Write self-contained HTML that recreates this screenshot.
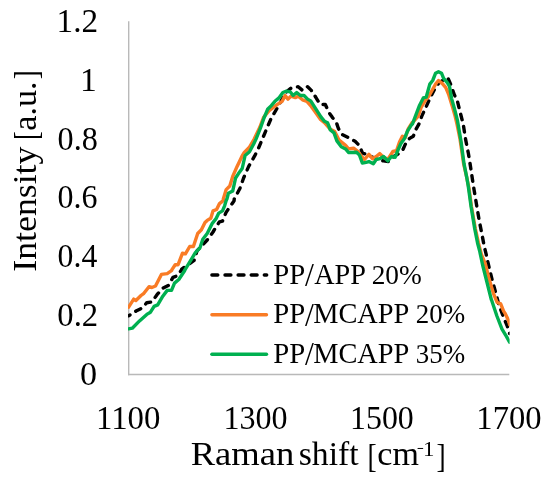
<!DOCTYPE html>
<html><head><meta charset="utf-8"><title>Raman spectra</title>
<style>
html,body{margin:0;padding:0;background:#fff;}
svg{display:block;}
text{font-family:"Liberation Serif","DejaVu Serif",serif;fill:#000;white-space:pre;}
</style></head><body>
<svg width="550" height="484" viewBox="0 0 550 484">
<rect width="550" height="484" fill="#fff"/>
<g stroke="#b9b9b9" stroke-width="1.4" fill="none">
<line x1="128.7" y1="21.3" x2="128.7" y2="375.2"/>
<line x1="128" y1="374.5" x2="509.3" y2="374.5"/>
</g>
<clipPath id="cp"><rect x="128" y="10" width="381.6" height="364"/></clipPath>
<g fill="none" stroke-width="3.4" stroke-linejoin="round" stroke-linecap="round" clip-path="url(#cp)">
<polyline stroke="#000" stroke-dasharray="5.6 6.9" stroke-dashoffset="4" points="128.6,315.8 132.3,313.6 136.6,310.7 142.5,307.8 146.8,302.7 151.9,302.0 157.0,294.7 162.8,288.2 168.6,285.3 173.0,277.3 177.4,275.8 181.0,270.7 181.7,269.1 194.1,260.4 197.0,250.9 207.2,240.0 213.0,232.0 215.2,228.4 219.5,221.8 222.5,221.1 226.1,212.4 229.0,208.0 232.6,202.9 234.1,200.7 234.2,199.1 240.0,188.2 243.6,178.0 248.7,166.4 254.5,156.2 258.2,148.9 262.5,138.7 266.9,128.2 271.3,118.0 277.8,107.1 282.2,99.1 286.5,91.8 290.9,88.2 298.2,86.7 302.5,90.4 307.6,86.7 311.3,90.4 315.8,97.3 320.2,104.5 325.3,104.5 328.9,112.5 332.5,117.6 336.2,122.0 338.4,128.5 342.0,134.4 347.8,137.3 352.9,140.2 355.1,141.3 359.5,145.6 362.4,152.9 366.0,154.4 379.8,160.2 383.5,160.9 388.5,161.6 393.6,156.5 398.7,153.6 403.1,149.3 406.0,142.7 409.6,138.4 413.3,136.2 416.2,128.9 418.9,124.1 421.8,116.1 426.2,106.6 429.8,98.6 434.2,89.9 438.5,83.4 443.6,79.7 448.0,78.3 450.9,84.8 453.8,93.5 457.5,101.5 460.4,113.2 463.3,124.4 465.5,138.9 468.4,153.5 470.5,166.5 472.7,181.1 474.0,189.4 476.9,206.8 479.1,219.9 482.0,234.5 484.2,246.1 486.2,254.4 489.1,267.5 492.7,282.0 496.4,295.1 499.3,306.7 499.8,307.3 504.2,318.9 507.1,325.5 509.6,333.5"/>
<polyline stroke="#f97b25" points="128.6,307.1 133.7,299.1 135.9,300.5 141.0,295.5 143.9,293.3 149.0,286.7 151.9,287.5 155.5,286.0 161.4,274.4 167.2,273.6 171.5,270.7 172.3,269.1 175.2,264.7 178.1,264.7 182.5,253.1 185.4,253.8 189.7,246.5 193.4,246.5 197.7,233.5 201.4,229.8 205.0,222.5 207.2,220.4 210.8,218.2 213.0,210.9 216.6,209.5 219.5,203.6 223.2,200.7 223.3,199.1 226.2,189.6 229.8,186.0 232.7,176.5 237.1,166.4 242.0,156.2 244.3,152.5 249.2,147.5 254.2,139.1 259.7,127.5 263.6,117.3 269.1,110.7 277.8,104.2 282.2,101.3 285.1,95.5 288.0,99.1 290.9,96.2 295.3,97.6 298.2,96.2 302.5,99.8 306.9,101.3 311.3,106.4 315.1,111.8 320.2,119.1 324.5,122.7 330.4,129.3 334.7,131.5 339.1,140.2 345.6,145.3 348.5,148.9 353.6,148.2 358.0,151.5 361.6,156.5 364.5,159.5 368.9,154.4 372.5,158.7 376.2,156.5 379.8,153.6 382.7,156.5 387.8,159.5 392.9,151.5 396.5,150.7 399.5,142.0 402.4,136.2 405.3,137.6 408.2,128.9 411.8,123.1 413.8,121.2 418.2,116.1 421.1,107.4 425.5,100.1 429.1,95.7 432.7,89.2 435.6,84.1 438.5,80.5 442.2,83.4 445.8,87.7 448.6,94.3 452.2,105.9 455.1,116.1 457.0,124.1 460.0,138.9 463.6,163.6 466.9,178.2 469.1,189.1 471.5,206.8 475.3,228.6 478.5,243.2 481.3,254.1 485.5,264.5 489.1,279.1 493.5,293.6 497.1,302.4 500.7,303.8 503.6,311.1 504.9,313.1 508.5,320.4 509.6,324.7"/>
<polyline stroke="#00b050" points="128.6,328.9 132.3,328.2 139.5,320.9 146.8,314.4 150.5,312.2 154.1,306.4 157.7,304.9 162.8,296.2 167.2,290.4 171.5,290.4 174.5,283.1 178.8,279.5 184.6,270.7 185.4,269.1 191.2,259.6 195.5,252.4 199.9,248.0 202.8,239.3 207.2,233.5 212.3,223.3 215.9,218.9 218.8,213.1 222.5,210.9 224.6,205.8 226.1,200.7 226.9,199.1 228.4,193.3 232.7,191.1 235.6,178.0 238.5,173.6 242.2,168.5 245.1,155.5 249.5,151.8 253.8,143.8 256.0,139.1 260.4,128.2 264.0,118.0 267.6,109.3 271.3,105.6 274.9,101.3 279.3,97.6 282.9,92.5 286.5,91.1 290.2,91.8 293.1,95.5 296.7,92.5 300.4,95.5 304.0,95.5 307.6,99.1 310.7,100.9 315.8,108.9 320.9,116.9 324.5,121.3 327.5,122.7 330.4,130.0 334.0,132.9 336.9,140.9 341.3,146.7 345.6,148.9 348.5,152.5 352.9,152.5 356.5,152.2 359.5,155.1 362.4,163.1 366.0,162.4 368.9,161.6 373.3,163.8 376.2,159.5 379.8,158.7 383.5,156.5 387.8,160.9 391.5,156.5 395.1,157.3 398.0,150.0 400.9,143.5 404.5,138.4 407.5,131.1 411.1,125.3 412.4,124.1 416.0,114.6 419.6,105.2 423.3,97.9 426.2,97.2 429.8,84.1 432.7,80.5 435.6,73.2 438.5,71.7 441.5,73.2 443.6,78.3 447.3,82.6 449.5,86.3 451.6,98.6 454.5,108.8 457.5,120.7 461.1,141.8 464.0,163.6 466.9,178.2 468.2,185.7 471.1,206.8 474.7,228.6 477.6,243.2 479.6,250.7 482.5,264.5 486.9,282.0 491.3,299.5 491.8,300.7 496.9,316.0 502.0,329.1 506.4,336.4 509.6,342.2"/>
</g>
<g fill="none" stroke-width="3.4" stroke-linecap="round">
<line x1="211.9" y1="275" x2="266.7" y2="275" stroke="#000" stroke-dasharray="5.9 7.2"/>
<line x1="211.9" y1="314.8" x2="266.5" y2="314.8" stroke="#f97b25"/>
<line x1="211.9" y1="354.3" x2="266.5" y2="354.3" stroke="#00b050"/>
</g>
<text transform="translate(56.58,32.00) scale(1.0082,1)" font-size="33">1.2</text>
<text transform="translate(79.95,90.80) scale(1.0174,1)" font-size="33">1</text>
<text transform="translate(57.58,149.50) scale(0.9755,1)" font-size="33">0.8</text>
<text transform="translate(57.59,208.30) scale(0.9692,1)" font-size="33">0.6</text>
<text transform="translate(57.60,267.10) scale(0.9620,1)" font-size="33">0.4</text>
<text transform="translate(57.36,325.80) scale(0.9908,1)" font-size="33">0.2</text>
<text transform="translate(80.11,384.60) scale(1.0357,1)" font-size="33">0</text>
<text transform="translate(96.02,429.30) scale(0.9934,1)" font-size="33">1100</text>
<text transform="translate(223.49,429.30) scale(0.9717,1)" font-size="33">1300</text>
<text transform="translate(350.10,429.30) scale(0.9652,1)" font-size="33">1500</text>
<text transform="translate(476.34,429.30) scale(0.9879,1)" font-size="33">1700</text>
<text transform="translate(190.69,465.40) scale(1.1098,1)" font-size="33">Raman</text>
<text transform="translate(298.72,465.40) scale(1.0201,1)" font-size="33">shift</text>
<text transform="translate(367.60,467.00) scale(0.8000,1)" font-size="34.4">[</text>
<text transform="translate(377.31,465.40) scale(1.0312,1)" font-size="33">cm</text>
<text transform="translate(416.91,455.00) scale(0.5946,1)" font-size="20">−</text>
<text transform="translate(423.00,456.00) scale(1.1429,1)" font-size="20">1</text>
<text transform="translate(436.60,467.00) scale(0.8000,1)" font-size="34.4">]</text>
<text transform="translate(273.24,283.90) scale(1.0084,1)" font-size="28.5">PP</text>
<text transform="translate(314.15,283.90) scale(0.9902,1)" font-size="28.5">APP</text>
<text transform="translate(371.65,283.90) scale(1.0010,1)" font-size="27.3">20%</text>
<text transform="translate(273.24,323.20) scale(1.0084,1)" font-size="28.5">PP</text>
<text transform="translate(313.15,323.20) scale(0.9963,1)" font-size="28.5">MCAPP</text>
<text transform="translate(415.77,323.20) scale(0.9864,1)" font-size="27.3">20%</text>
<text transform="translate(273.24,362.60) scale(1.0084,1)" font-size="28.5">PP</text>
<text transform="translate(313.15,362.60) scale(0.9963,1)" font-size="28.5">MCAPP</text>
<text transform="translate(415.77,362.60) scale(0.9864,1)" font-size="27.3">35%</text>
<text transform="translate(35.50,271.65) rotate(-90) scale(1.0833,1)" font-size="33">Intensity</text>
<text transform="translate(37.00,140.00) rotate(-90) scale(0.7613,1)" font-size="34.4">[</text>
<text transform="translate(35.50,130.69) rotate(-90) scale(1.0350,1)" font-size="33">a.u.</text>
<text transform="translate(37.00,79.37) rotate(-90) scale(0.7742,1)" font-size="34.4">]</text>
<text transform="translate(305.10,286.30) scale(1.1226,1.1947)" font-size="28.5">/</text>
<text transform="translate(305.10,325.60) scale(1.1226,1.1947)" font-size="28.5">/</text>
<text transform="translate(305.10,365.00) scale(1.1226,1.1947)" font-size="28.5">/</text>
</svg>
</body></html>
